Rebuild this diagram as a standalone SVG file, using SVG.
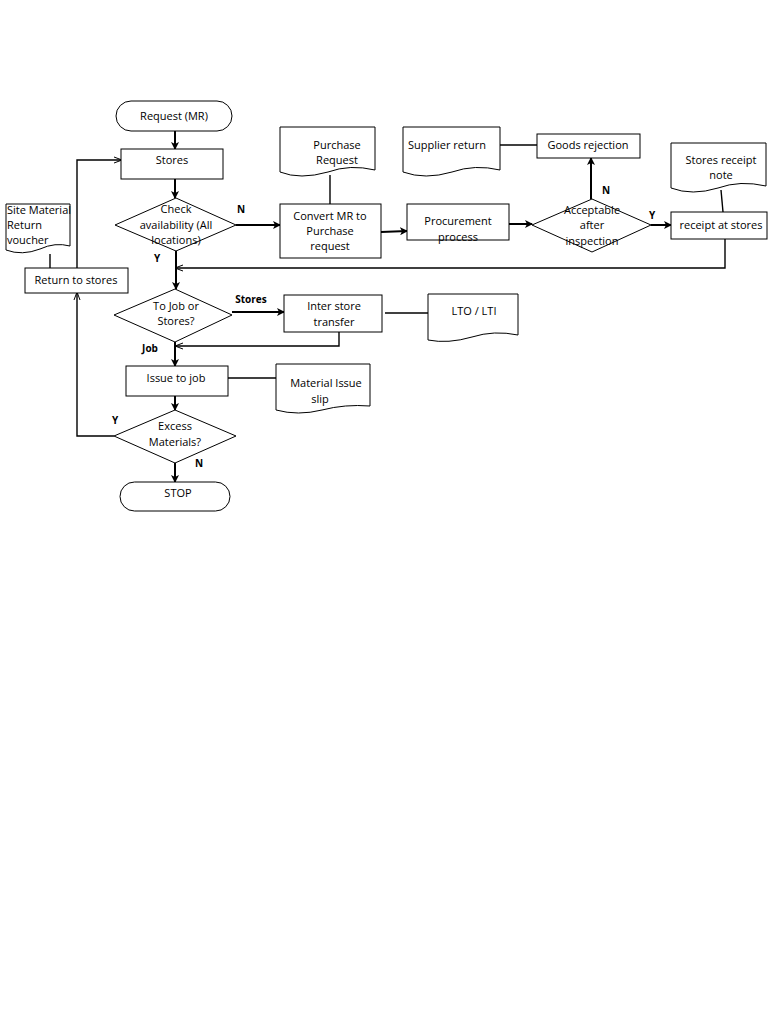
<svg xmlns="http://www.w3.org/2000/svg" width="768" height="1024" viewBox="0 0 768 1024">
<defs>
<marker id="ah" markerWidth="8" markerHeight="8" refX="7" refY="4" orient="auto" markerUnits="userSpaceOnUse"><path d="M0,0 L8,4 L0,8 L2,4 z" fill="#000"/></marker>
<marker id="at" markerWidth="8" markerHeight="8" refX="7" refY="4" orient="auto" markerUnits="userSpaceOnUse"><path d="M0,1 L8,4 L0,7" fill="none" stroke="#000" stroke-width="1"/></marker>
</defs>
<style>
.s{fill:#fff;stroke:#000;stroke-width:1}
.t{font-family:"Open Sans","Noto Sans",sans-serif;font-size:11px;fill:#000;text-anchor:middle}
.b{font-weight:bold;font-size:10px}
.c{fill:none;stroke:#000;stroke-width:1.4}
.cb{fill:none;stroke:#000;stroke-width:2}
</style>
<rect width="768" height="1024" fill="#fff"/>
<g id="connectors">
<path class="cb" d="M175,131 V149" marker-end="url(#ah)"/>
<path class="cb" d="M175,179 V198" marker-end="url(#ah)"/>
<path class="cb" d="M236,225 H280" marker-end="url(#ah)"/>
<path class="c" d="M330,175 V204"/>
<path class="cb" d="M381,232 L407,231" marker-end="url(#ah)"/>
<path class="cb" d="M509,224 H532" marker-end="url(#ah)"/>
<path class="cb" d="M591,199 V158" marker-end="url(#ah)"/>
<path class="c" d="M500,145 H537"/>
<path class="cb" d="M651,225 H671" marker-end="url(#ah)"/>
<path class="c" d="M721,190 L723,212"/>
<path class="c" d="M725,239 V268 H176" marker-end="url(#at)"/>
<path class="cb" d="M176,251 V289" marker-end="url(#ah)"/>
<path class="c" d="M50,254 V268"/>
<path class="c" d="M77,268 V160 H121" marker-end="url(#at)"/>
<path class="cb" d="M232,312 H284" marker-end="url(#ah)"/>
<path class="c" d="M385,313 H428"/>
<path class="c" d="M339,332 V346 H176" marker-end="url(#at)"/>
<path class="cb" d="M175,342 V366" marker-end="url(#ah)"/>
<path class="c" d="M228,378 H276"/>
<path class="cb" d="M175,396 V410" marker-end="url(#ah)"/>
<path class="c" d="M114,436 H77 V293" marker-end="url(#at)"/>
<path class="cb" d="M175,463 V482" marker-end="url(#ah)"/>
</g>
<g id="request"><rect class="s" x="116" y="101" width="116" height="30" rx="15"/><text class="t" x="174" y="120">Request (MR)</text></g>
<g id="stores"><rect class="s" x="121" y="149" width="102" height="30"/><text class="t" x="172" y="164">Stores</text></g>
<g id="check"><path class="s" d="M115,225 L176,198 L236,225 L176,251 z"/><text class="t" x="176" y="213">Check</text><text class="t" x="176" y="229">availability (All</text><text class="t" x="176" y="244">locations)</text></g>
<g id="convert"><rect class="s" x="280" y="204" width="101" height="54"/><text class="t" x="330" y="220">Convert MR to</text><text class="t" x="330" y="235">Purchase</text><text class="t" x="330" y="250">request</text></g>
<g id="purchase-request"><path class="s" d="M280,127 H375 V170 Q350,164 328,172 Q300,180 280,172 z"/><text class="t" x="337" y="149">Purchase</text><text class="t" x="337" y="164">Request</text></g>
<g id="procurement"><rect class="s" x="407" y="204" width="102" height="36"/><text class="t" x="458" y="225">Procurement</text><text class="t" x="458" y="241">process</text></g>
<g id="acceptable"><path class="s" d="M532,225 L592,199 L651,225 L592,252 z"/><text class="t" x="592" y="214">Acceptable</text><text class="t" x="592" y="229">after</text><text class="t" x="592" y="245">inspection</text></g>
<g id="goods-rejection"><rect class="s" x="537" y="134" width="103" height="24"/><text class="t" x="588" y="149">Goods rejection</text></g>
<g id="supplier-return"><path class="s" d="M403,127 H500 V170 Q475,164 452,172 Q425,180 403,172 z"/><text class="t" x="447" y="149">Supplier return</text></g>
<g id="receipt"><rect class="s" x="671" y="212" width="96" height="27"/><text class="t" x="721" y="229">receipt at stores</text></g>
<g id="receipt-note"><path class="s" d="M671,143 H766 V186 Q740,180 718,188 Q692,196 671,188 z"/><text class="t" x="721" y="164">Stores receipt</text><text class="t" x="721" y="179">note</text></g>
<g id="site-voucher"><path class="s" d="M6,204 H70 V246 Q55,242 40,249 Q22,256 6,250 z"/><text class="t" x="7" y="214" style="text-anchor:start">Site Material</text><text class="t" x="7" y="229" style="text-anchor:start">Return</text><text class="t" x="7" y="244" style="text-anchor:start">voucher</text></g>
<g id="return-stores"><rect class="s" x="25" y="268" width="103" height="25"/><text class="t" x="76" y="284">Return to stores</text></g>
<g id="to-job"><path class="s" d="M114,315 L175,289 L232,315 L175,342 z"/><text class="t" x="176" y="310">To Job or</text><text class="t" x="176" y="325">Stores?</text></g>
<g id="inter-store"><rect class="s" x="284" y="295" width="98" height="37"/><text class="t" x="334" y="310">Inter store</text><text class="t" x="334" y="326">transfer</text></g>
<g id="lto"><path class="s" d="M428,294 H518 V335 Q494,330 472,337 Q448,344 428,340 z"/><text class="t" x="474" y="315">LTO / LTI</text></g>
<g id="issue"><rect class="s" x="126" y="366" width="102" height="30"/><text class="t" x="176" y="382">Issue to job</text></g>
<g id="issue-slip"><path class="s" d="M276,364 H370 V406 Q345,404 322,410 Q298,416 276,410 z"/><text class="t" x="326" y="387">Material Issue</text><text class="t" x="320" y="403">slip</text></g>
<g id="excess"><path class="s" d="M114,436 L175,410 L236,436 L175,463 z"/><text class="t" x="175" y="430">Excess</text><text class="t" x="175" y="446">Materials?</text></g>
<g id="stop"><rect class="s" x="120" y="482" width="110" height="29" rx="14.5"/><text class="t" x="178" y="497">STOP</text></g>
<g id="labels">
<text class="t b" x="241" y="213">N</text>
<text class="t b" x="157" y="262">Y</text>
<text class="t b" x="606" y="194">N</text>
<text class="t b" x="652" y="219">Y</text>
<text class="t b" x="251" y="303">Stores</text>
<text class="t b" x="150" y="352">Job</text>
<text class="t b" x="115" y="424">Y</text>
<text class="t b" x="199" y="467">N</text>
</g>
</svg>
